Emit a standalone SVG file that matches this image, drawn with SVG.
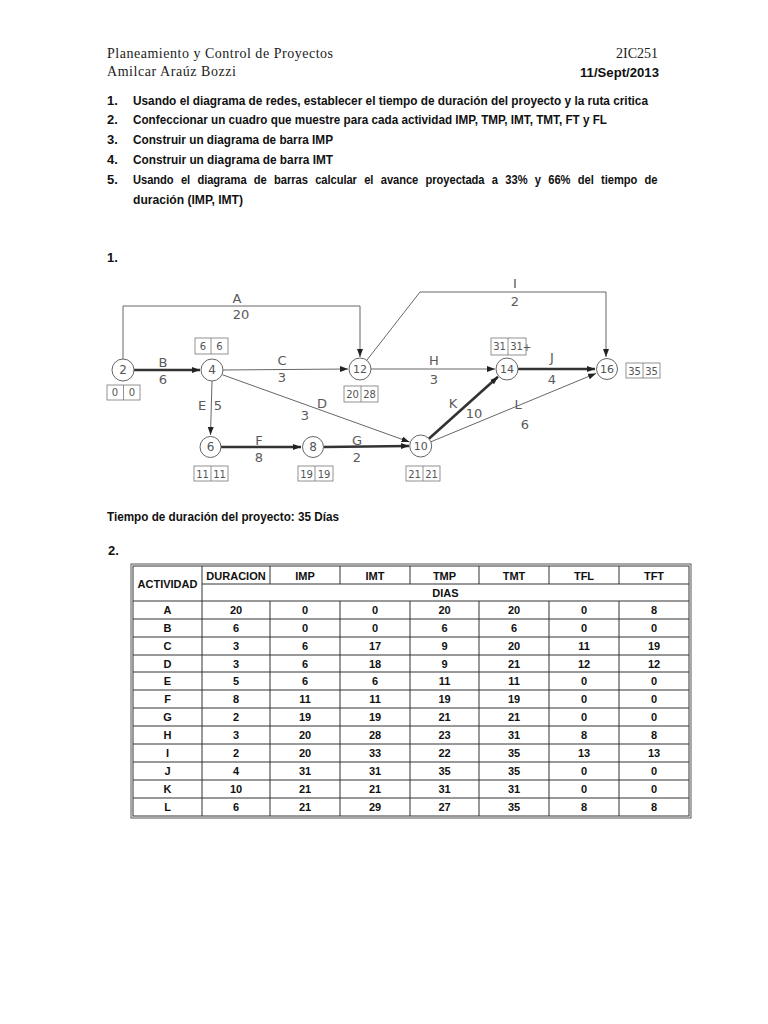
<svg xmlns="http://www.w3.org/2000/svg" width="768" height="1024" viewBox="0 0 768 1024">
<style>
.hdr{font-family:"Liberation Serif",serif;font-size:14px;fill:#222}
.hdrb{font-family:"Liberation Sans",sans-serif;font-size:13px;font-weight:bold;fill:#111}
.li{font-family:"Liberation Sans",sans-serif;font-size:13px;font-weight:bold;fill:#111}
.ln{fill:none;stroke:#666;stroke-width:1}
.cr{fill:none;stroke:#333;stroke-width:2.6}
.nd{fill:#fff;stroke:#666;stroke-width:1}
.nt{font-family:"DejaVu Sans",sans-serif;font-size:12px;fill:#555;text-anchor:middle}
.el{font-family:"DejaVu Sans",sans-serif;font-size:13px;fill:#5a5a5a;text-anchor:middle}
.bx{fill:#fff;stroke:#777;stroke-width:0.8}
.bt{font-family:"DejaVu Sans",sans-serif;font-size:10px;fill:#555;text-anchor:middle}
.tg{stroke:#333;stroke-width:1;fill:none}
.tt{font-family:"Liberation Sans",sans-serif;font-size:11px;font-weight:bold;fill:#111;text-anchor:middle}
</style>
<defs>
<marker id="ah" markerUnits="userSpaceOnUse" markerWidth="9" markerHeight="7" refX="8" refY="3" orient="auto">
<path d="M0,0 L8,3 L0,6 z" fill="#222"/>
</marker>
</defs>
<rect width="768" height="1024" fill="#fff"/>

<g id="header">
<text class="hdr" x="107" y="58" textLength="226" lengthAdjust="spacing">Planeamiento y Control de Proyectos</text>
<text class="hdr" x="658" y="58" text-anchor="end">2IC251</text>
<text class="hdr" x="107" y="76" textLength="129" lengthAdjust="spacing">Amilcar Araúz Bozzi</text>
<text class="hdrb" x="580" y="77" textLength="79" lengthAdjust="spacingAndGlyphs">11/Sept/2013</text>
</g>

<g id="list">
<text class="li" x="107" y="105">1.</text>
<text class="li" x="133" y="105" textLength="515" lengthAdjust="spacingAndGlyphs">Usando el diagrama de redes, establecer el tiempo de duración del proyecto y la ruta critica</text>
<text class="li" x="107" y="124">2.</text>
<text class="li" x="133" y="124" textLength="474" lengthAdjust="spacingAndGlyphs">Confeccionar un cuadro que muestre para cada actividad IMP, TMP, IMT, TMT, FT y FL</text>
<text class="li" x="107" y="144">3.</text>
<text class="li" x="133" y="144" textLength="200" lengthAdjust="spacingAndGlyphs">Construir un diagrama de barra IMP</text>
<text class="li" x="107" y="164">4.</text>
<text class="li" x="133" y="164" textLength="200" lengthAdjust="spacingAndGlyphs">Construir un diagrama de barra IMT</text>
<text class="li" x="107" y="184">5.</text>
<text class="li" transform="translate(133,184) scale(0.86,1)" x="0" y="0" word-spacing="5" textLength="610" lengthAdjust="spacing">Usando el diagrama de barras calcular el avance proyectada a 33% y 66% del tiempo de</text>
<text class="li" x="133" y="204" textLength="110" lengthAdjust="spacingAndGlyphs">duración (IMP, IMT)</text>
<text class="li" x="107" y="262">1.</text>
</g>

<g id="connectors">
<polyline class="ln" points="123,359 123,306 360,306 360,357" marker-end="url(#ah)"/>
<line class="cr" x1="134" y1="370" x2="200" y2="370" marker-end="url(#ah)"/>
<line class="ln" x1="223" y1="370" x2="348" y2="369" marker-end="url(#ah)"/>
<line class="ln" x1="371" y1="369" x2="495" y2="369" marker-end="url(#ah)"/>
<polyline class="ln" points="367,360 420,292 606,292 606,357" marker-end="url(#ah)"/>
<line class="cr" x1="518" y1="369" x2="595" y2="369" marker-end="url(#ah)"/>
<line class="ln" x1="222.3" y1="374.7" x2="409.5" y2="442" marker-end="url(#ah)"/>
<line class="ln" x1="212" y1="381" x2="210.5" y2="435" marker-end="url(#ah)"/>
<line class="cr" x1="221" y1="447" x2="301" y2="447" marker-end="url(#ah)"/>
<line class="cr" x1="324" y1="447" x2="409" y2="446" marker-end="url(#ah)"/>
<line class="cr" x1="428.9" y1="438.7" x2="498" y2="376.8" marker-end="url(#ah)"/>
<line class="ln" x1="430.9" y1="441.8" x2="596" y2="373.4" marker-end="url(#ah)"/>
</g>

<g id="edge-labels">
<text class="el" x="237" y="303">A</text><text class="el" x="241" y="319">20</text>
<text class="el" x="163" y="367">B</text><text class="el" x="163" y="384">6</text>
<text class="el" x="282" y="365">C</text><text class="el" x="282" y="382">3</text>
<text class="el" x="434" y="365">H</text><text class="el" x="434" y="384">3</text>
<text class="el" x="515" y="288">I</text><text class="el" x="515" y="306">2</text>
<text class="el" x="552" y="362">J</text><text class="el" x="552" y="384">4</text>
<text class="el" x="322" y="408">D</text><text class="el" x="305" y="420">3</text>
<text class="el" x="202" y="410">E</text><text class="el" x="218" y="410">5</text>
<text class="el" x="259" y="445">F</text><text class="el" x="259" y="462">8</text>
<text class="el" x="357" y="445">G</text><text class="el" x="357" y="462">2</text>
<text class="el" x="453" y="408">K</text><text class="el" x="474" y="418">10</text>
<text class="el" x="518" y="409">L</text><text class="el" x="525" y="429">6</text>
</g>

<g id="node-2"><circle class="nd" cx="123" cy="370" r="11"/><text class="nt" x="123" y="374">2</text>
<rect class="bx" x="107" y="385" width="33" height="15"/><line class="bx" x1="123.5" y1="385" x2="123.5" y2="400"/>
<text class="bt" x="115" y="396">0</text><text class="bt" x="132" y="396">0</text></g>

<g id="node-4"><circle class="nd" cx="212" cy="370" r="11"/><text class="nt" x="212" y="374">4</text>
<rect class="bx" x="195" y="338" width="33" height="16"/><line class="bx" x1="211" y1="338" x2="211" y2="354"/>
<text class="bt" x="203" y="350">6</text><text class="bt" x="219.5" y="350">6</text></g>

<g id="node-12"><circle class="nd" cx="360" cy="369" r="11"/><text class="nt" x="360" y="373" style="font-size:11px">12</text>
<rect class="bx" x="344" y="386" width="34" height="16"/><line class="bx" x1="361" y1="386" x2="361" y2="402"/>
<text class="bt" x="352.5" y="398">20</text><text class="bt" x="369.5" y="398">28</text></g>

<g id="node-14"><circle class="nd" cx="507" cy="369" r="11"/><text class="nt" x="507" y="373" style="font-size:11px">14</text>
<rect class="bx" x="491" y="338" width="35" height="17"/><line class="bx" x1="508" y1="338" x2="508" y2="355"/>
<text class="bt" x="499.5" y="350">31</text><text class="bt" x="516.5" y="350">31</text><text class="bt" x="527" y="351">+</text></g>

<g id="node-16"><circle class="nd" cx="607" cy="369" r="10.5"/><text class="nt" x="607" y="373" style="font-size:11px">16</text>
<rect class="bx" x="626" y="363" width="34" height="15"/><line class="bx" x1="643" y1="363" x2="643" y2="378"/>
<text class="bt" x="634.5" y="374.5">35</text><text class="bt" x="651.5" y="374.5">35</text></g>

<g id="node-6"><circle class="nd" cx="210.5" cy="447" r="10.5"/><text class="nt" x="210.5" y="451">6</text>
<rect class="bx" x="194" y="466" width="34" height="15"/><line class="bx" x1="211" y1="466" x2="211" y2="481"/>
<text class="bt" x="202.5" y="477.5">11</text><text class="bt" x="219.5" y="477.5">11</text></g>

<g id="node-8"><circle class="nd" cx="313" cy="447" r="10.5"/><text class="nt" x="313" y="451">8</text>
<rect class="bx" x="298" y="466" width="35" height="15"/><line class="bx" x1="315" y1="466" x2="315" y2="481"/>
<text class="bt" x="306.5" y="477.5">19</text><text class="bt" x="324" y="477.5">19</text></g>

<g id="node-10"><circle class="nd" cx="420.7" cy="446" r="11"/><text class="nt" x="420.7" y="450" style="font-size:11px">10</text>
<rect class="bx" x="406" y="466" width="34" height="15"/><line class="bx" x1="423" y1="466" x2="423" y2="481"/>
<text class="bt" x="414.5" y="477.5">21</text><text class="bt" x="431.5" y="477.5">21</text></g>

<g id="summary">
<text class="li" x="107" y="521" textLength="232" lengthAdjust="spacingAndGlyphs">Tiempo de duración del proyecto: 35 Días</text>
<text class="li" x="108" y="555">2.</text>
</g>

<g id="table">
<rect x="131" y="564" width="560" height="254" fill="none" stroke="#555" stroke-width="1"/>
<rect x="133" y="566" width="556" height="250" class="tg"/>
<g class="tg">
<line x1="202" y1="566" x2="202" y2="816"/>
<line x1="270" y1="566" x2="270" y2="584"/><line x1="270" y1="601" x2="270" y2="816"/>
<line x1="340" y1="566" x2="340" y2="584"/><line x1="340" y1="601" x2="340" y2="816"/>
<line x1="410" y1="566" x2="410" y2="584"/><line x1="410" y1="601" x2="410" y2="816"/>
<line x1="479" y1="566" x2="479" y2="584"/><line x1="479" y1="601" x2="479" y2="816"/>
<line x1="549" y1="566" x2="549" y2="584"/><line x1="549" y1="601" x2="549" y2="816"/>
<line x1="619" y1="566" x2="619" y2="584"/><line x1="619" y1="601" x2="619" y2="816"/>
<line x1="202" y1="584" x2="689" y2="584"/>
<line x1="133" y1="601" x2="689" y2="601"/>
<line x1="133" y1="619" x2="689" y2="619"/>
<line x1="133" y1="637" x2="689" y2="637"/>
<line x1="133" y1="655" x2="689" y2="655"/>
<line x1="133" y1="672" x2="689" y2="672"/>
<line x1="133" y1="690" x2="689" y2="690"/>
<line x1="133" y1="708" x2="689" y2="708"/>
<line x1="133" y1="726" x2="689" y2="726"/>
<line x1="133" y1="744" x2="689" y2="744"/>
<line x1="133" y1="762" x2="689" y2="762"/>
<line x1="133" y1="780" x2="689" y2="780"/>
<line x1="133" y1="798" x2="689" y2="798"/>
</g>
<text class="tt" x="167.5" y="588">ACTIVIDAD</text>
<text class="tt" x="236" y="580">DURACION</text>
<text class="tt" x="305" y="580">IMP</text>
<text class="tt" x="375" y="580">IMT</text>
<text class="tt" x="444.5" y="580">TMP</text>
<text class="tt" x="514" y="580">TMT</text>
<text class="tt" x="584" y="580">TFL</text>
<text class="tt" x="654" y="580">TFT</text>
<text class="tt" x="445.5" y="597">DIAS</text>
<g class="tt">
<text x="167.5" y="614">A</text><text x="236" y="614">20</text><text x="305" y="614">0</text><text x="375" y="614">0</text><text x="444.5" y="614">20</text><text x="514" y="614">20</text><text x="584" y="614">0</text><text x="654" y="614">8</text>
<text x="167.5" y="632">B</text><text x="236" y="632">6</text><text x="305" y="632">0</text><text x="375" y="632">0</text><text x="444.5" y="632">6</text><text x="514" y="632">6</text><text x="584" y="632">0</text><text x="654" y="632">0</text>
<text x="167.5" y="650">C</text><text x="236" y="650">3</text><text x="305" y="650">6</text><text x="375" y="650">17</text><text x="444.5" y="650">9</text><text x="514" y="650">20</text><text x="584" y="650">11</text><text x="654" y="650">19</text>
<text x="167.5" y="668">D</text><text x="236" y="668">3</text><text x="305" y="668">6</text><text x="375" y="668">18</text><text x="444.5" y="668">9</text><text x="514" y="668">21</text><text x="584" y="668">12</text><text x="654" y="668">12</text>
<text x="167.5" y="685">E</text><text x="236" y="685">5</text><text x="305" y="685">6</text><text x="375" y="685">6</text><text x="444.5" y="685">11</text><text x="514" y="685">11</text><text x="584" y="685">0</text><text x="654" y="685">0</text>
<text x="167.5" y="703">F</text><text x="236" y="703">8</text><text x="305" y="703">11</text><text x="375" y="703">11</text><text x="444.5" y="703">19</text><text x="514" y="703">19</text><text x="584" y="703">0</text><text x="654" y="703">0</text>
<text x="167.5" y="721">G</text><text x="236" y="721">2</text><text x="305" y="721">19</text><text x="375" y="721">19</text><text x="444.5" y="721">21</text><text x="514" y="721">21</text><text x="584" y="721">0</text><text x="654" y="721">0</text>
<text x="167.5" y="739">H</text><text x="236" y="739">3</text><text x="305" y="739">20</text><text x="375" y="739">28</text><text x="444.5" y="739">23</text><text x="514" y="739">31</text><text x="584" y="739">8</text><text x="654" y="739">8</text>
<text x="167.5" y="757">I</text><text x="236" y="757">2</text><text x="305" y="757">20</text><text x="375" y="757">33</text><text x="444.5" y="757">22</text><text x="514" y="757">35</text><text x="584" y="757">13</text><text x="654" y="757">13</text>
<text x="167.5" y="775">J</text><text x="236" y="775">4</text><text x="305" y="775">31</text><text x="375" y="775">31</text><text x="444.5" y="775">35</text><text x="514" y="775">35</text><text x="584" y="775">0</text><text x="654" y="775">0</text>
<text x="167.5" y="793">K</text><text x="236" y="793">10</text><text x="305" y="793">21</text><text x="375" y="793">21</text><text x="444.5" y="793">31</text><text x="514" y="793">31</text><text x="584" y="793">0</text><text x="654" y="793">0</text>
<text x="167.5" y="811">L</text><text x="236" y="811">6</text><text x="305" y="811">21</text><text x="375" y="811">29</text><text x="444.5" y="811">27</text><text x="514" y="811">35</text><text x="584" y="811">8</text><text x="654" y="811">8</text>
</g>
</g>
</svg>
